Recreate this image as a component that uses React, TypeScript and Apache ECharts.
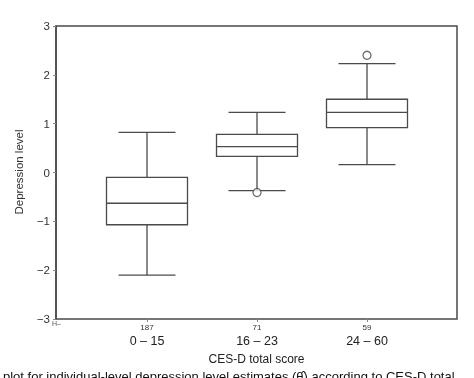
import React, { useEffect, useRef } from "react";
import * as echarts from "echarts";

const categories = ["0 – 15", "16 – 23", "24 – 60"];
const counts = ["187", "71", "59"];
const lowerWhisker = [-2.1, -0.37, 0.16];
const q1 = [-1.07, 0.33, 0.92];
const median = [-0.63, 0.53, 1.23];
const q3 = [-0.1, 0.78, 1.5];
const upperWhisker = [0.82, 1.23, 2.23];
const outliers: [number, number][] = [
  [1, -0.41],
  [2, 2.4],
];
const yTicks = [-3, -2, -1, 0, 1, 2, 3];

const LINE = "#4a4a4a";

export default function App() {
  const ref = useRef<HTMLDivElement>(null);
  useEffect(() => {
    const chart = echarts.init(ref.current!, null, { renderer: "svg" });
    const boxData = categories.map((_, i) => [
      i,
      lowerWhisker[i],
      q1[i],
      median[i],
      q3[i],
      upperWhisker[i],
    ]);
    const fmt = (v: number) => (v < 0 ? "\u2212" + Math.abs(v) : String(v));
    chart.setOption({
      animation: false,
      grid: [
        { left: 56, top: 26, width: 401, height: 293, show: true, borderColor: LINE, borderWidth: 1.5, backgroundColor: "transparent" },
        { left: 92, top: 26, width: 330, height: 293 },
      ],
      xAxis: [
        { gridIndex: 0, type: "value", min: 0, max: 1, axisLine: { show: false }, axisTick: { show: false }, axisLabel: { show: false }, splitLine: { show: false } },
        {
          gridIndex: 1,
          type: "category",
          data: categories,
          position: "bottom",
          axisLine: { show: false, onZero: false },
          axisTick: { show: true, alignWithLabel: true, length: 3, lineStyle: { color: "#888", width: 1 } },
          axisLabel: {
            margin: 3,
            formatter: (v: string, i: number) => `{n|${counts[i]}}\n{r|${v}}`,
            rich: {
              n: { fontSize: 8, lineHeight: 10, color: "#333", fontFamily: "Liberation Sans, Arial" },
              r: { fontSize: 12.5, lineHeight: 17, color: "#222", fontFamily: "Liberation Sans, Arial" },
            },
          },
          splitLine: { show: false },
        },
      ],
      yAxis: [
        {
          gridIndex: 0,
          type: "value",
          min: -3,
          max: 3,
          interval: 1,
          axisLine: { show: true, lineStyle: { color: LINE, width: 1.5 } },
          axisTick: { show: true, length: 3, lineStyle: { color: "#888" } },
          axisLabel: { margin: 6, fontSize: 11.5, color: "#333", fontFamily: "Liberation Sans, Arial", formatter: (v: number) => (yTicks.includes(v) ? fmt(v) : "") },
          splitLine: { show: false },
        },
        { gridIndex: 1, type: "value", min: -3, max: 3, show: false },
      ],
      series: [
        {
          type: "custom",
          xAxisIndex: 1,
          yAxisIndex: 1,
          data: boxData,
          renderItem: (params: any, api: any) => {
            const x = api.value(0);
            const pLow = api.coord([x, api.value(1)]);
            const pQ1 = api.coord([x, api.value(2)]);
            const pMed = api.coord([x, api.value(3)]);
            const pQ3 = api.coord([x, api.value(4)]);
            const pHigh = api.coord([x, api.value(5)]);
            const cx = pLow[0];
            const hw = 40.5;
            const cw = 28.5;
            const st = { stroke: LINE, lineWidth: 1.3, fill: "none" };
            return {
              type: "group",
              children: [
                { type: "line", shape: { x1: cx, y1: pHigh[1], x2: cx, y2: pQ3[1] }, style: st },
                { type: "line", shape: { x1: cx, y1: pQ1[1], x2: cx, y2: pLow[1] }, style: st },
                { type: "line", shape: { x1: cx - cw, y1: pHigh[1], x2: cx + cw, y2: pHigh[1] }, style: st },
                { type: "line", shape: { x1: cx - cw, y1: pLow[1], x2: cx + cw, y2: pLow[1] }, style: st },
                { type: "rect", shape: { x: cx - hw, y: pQ3[1], width: 2 * hw, height: pQ1[1] - pQ3[1] }, style: { stroke: LINE, lineWidth: 1.3, fill: "#fff" } },
                { type: "line", shape: { x1: cx - hw, y1: pMed[1], x2: cx + hw, y2: pMed[1] }, style: st },
              ],
            };
          },
        },
        {
          type: "scatter",
          xAxisIndex: 1,
          yAxisIndex: 1,
          data: outliers,
          symbol: "circle",
          symbolSize: 8,
          itemStyle: { color: "#fff", borderColor: LINE, borderWidth: 1.3 },
          z: 5,
        },
      ],
      graphic: [
        { type: "text", left: 52, top: 320, style: { text: "H\u2013", fontSize: 7, fill: "#555", fontFamily: "Liberation Sans, Arial" } },
        { type: "text", x: 256.5, y: 359, style: { text: "CES-D total score", fontSize: 12, fill: "#222", fontFamily: "Liberation Sans, Arial", align: "center", verticalAlign: "middle" } },
        { type: "text", x: 19, y: 172, rotation: Math.PI / 2, style: { text: "Depression level", fontSize: 11.5, fill: "#333", fontFamily: "Liberation Sans, Arial", align: "center", verticalAlign: "middle" } },
        { type: "text", x: 3, y: 370, style: { text: "plot for individual-level depression level estimates (\u03b8\u0302) according to CES-D total", fontSize: 13, fill: "#111", fontFamily: "Liberation Sans, Arial", verticalAlign: "top" } },
      ],
    });
    return () => chart.dispose();
  }, []);
  return <div ref={ref} style={{ position: "fixed", left: 0, top: 0, width: 474, height: 378 }} />;
}
